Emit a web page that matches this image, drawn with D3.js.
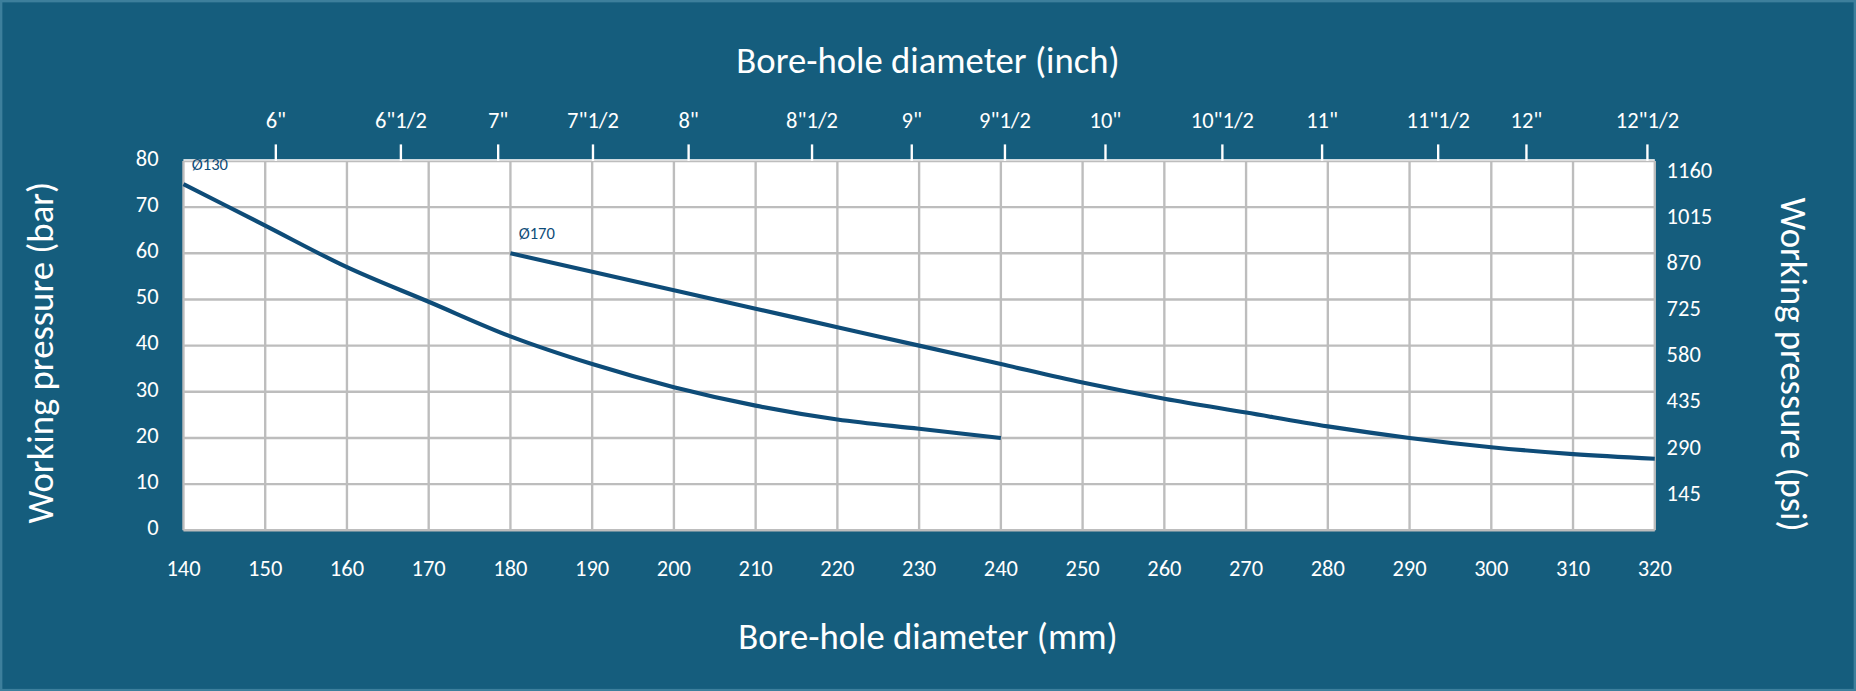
<!DOCTYPE html>
<html lang="en">
<head>
<meta charset="utf-8" />
<script src="https://cdn.jsdelivr.net/npm/d3@7"></script>
<style>
  body { margin: 0; background: #155d7d; }
  text { font-family: Calibri, Carlito, "Open Sans", sans-serif; fill: #fff; }
</style>
</head>
<body>
<script>
var mmTicks = d3.range(140, 321, 10);
var barTicks = d3.range(0, 81, 10);
var psiTicks = [145, 290, 435, 580, 725, 870, 1015, 1160];
var inchLabels = ['6"', '6"1/2', '7"', '7"1/2', '8"', '8"1/2', '9"', '9"1/2', '10"', '10"1/2', '11"', '11"1/2', '12"', '12"1/2'];
var inchPosMm = [151.3, 166.6, 178.5, 190.1, 201.8, 216.9, 229.1, 240.5, 252.8, 267.1, 279.3, 293.5, 304.3, 319.1];

var s130x = [140, 150, 160, 170, 180, 190, 200, 210, 220, 230, 240];
var s130y = [75, 66, 57, 49.5, 42, 36, 31, 27, 24, 22, 20];
var s170x = [180, 190, 200, 210, 220, 230, 240, 250, 260, 270, 280, 290, 300, 310, 320];
var s170y = [60, 56, 52, 48, 44, 40, 36, 32, 28.5, 25.5, 22.5, 20, 18, 16.5, 15.5];

var W = 1856, H = 691, k = 1856 / 1568;
var root = d3.select("body").append("svg").attr("width", W).attr("height", H);
var svg = root.append("g").attr("transform", "scale(" + k + ")");
svg.append("rect").attr("x", 1).attr("y", 1).attr("width", 1566).attr("height", 582)
  .attr("fill", "#155d7d").attr("stroke", "#3d7f9c").attr("stroke-width", 2);

var x = d3.scaleLinear().domain([140, 320]).range([155, 1398]);
var y = d3.scaleLinear().domain([0, 80]).range([448, 136]);

svg.append("rect").attr("x", x(140)).attr("y", y(80)).attr("width", x(320) - x(140))
  .attr("height", y(0) - y(80)).attr("fill", "#fff");

svg.selectAll(".vg").data(mmTicks).enter().append("line")
  .attr("x1", d => x(d)).attr("x2", d => x(d)).attr("y1", y(0)).attr("y2", y(80))
  .attr("stroke", "#bdbdbd").attr("stroke-width", 2);
svg.selectAll(".hg").data(barTicks).enter().append("line")
  .attr("x1", x(140)).attr("x2", x(320)).attr("y1", d => y(d)).attr("y2", d => y(d))
  .attr("stroke", "#bdbdbd").attr("stroke-width", 2);

svg.selectAll(".xl").data(mmTicks).enter().append("text")
  .attr("x", d => x(d)).attr("y", 487).attr("text-anchor", "middle")
  .attr("font-size", 19).text(d => d);
svg.selectAll(".yl").data(barTicks).enter().append("text")
  .attr("x", 134).attr("y", d => y(d) + 4).attr("text-anchor", "end")
  .attr("font-size", 19).text(d => d);
svg.selectAll(".pl").data(psiTicks).enter().append("text")
  .attr("x", 1408).attr("y", d => y(d / 14.5) + 14).attr("text-anchor", "start")
  .attr("font-size", 19).text(d => d);

// top inch axis
svg.append("line").attr("x1", x(140)).attr("x2", x(320)).attr("y1", 135).attr("y2", 135)
  .attr("stroke", "#fff").attr("stroke-width", 1);
svg.selectAll(".it").data(inchPosMm).enter().append("line")
  .attr("x1", d => x(d)).attr("x2", d => x(d)).attr("y1", 122).attr("y2", 136)
  .attr("stroke", "#fff").attr("stroke-width", 2);
svg.selectAll(".il").data(inchPosMm).enter().append("text")
  .attr("x", d => x(d)).attr("y", 108).attr("text-anchor", "middle")
  .attr("font-size", 19).text((d, i) => inchLabels[i]);

svg.append("text").attr("x", 784).attr("y", 62).attr("text-anchor", "middle")
  .attr("font-size", 31).text("Bore-hole diameter (inch)");
svg.append("text").attr("x", 784).attr("y", 548).attr("text-anchor", "middle")
  .attr("font-size", 31).text("Bore-hole diameter (mm)");
svg.append("text").attr("transform", "translate(45,298) rotate(-90)").attr("text-anchor", "middle")
  .attr("font-size", 31).text("Working pressure (bar)");
svg.append("text").attr("transform", "translate(1505,308) rotate(90)").attr("text-anchor", "middle")
  .attr("font-size", 31).text("Working pressure (psi)");

var line = d3.line().curve(d3.curveMonotoneX).x(d => x(d[0])).y(d => y(d[1]));
[[s130x, s130y, "Ø130"], [s170x, s170y, "Ø170"]].forEach(function (s) {
  var pts = s[0].map((v, i) => [v, s[1][i]]);
  svg.append("path").datum(pts).attr("d", line).attr("fill", "none")
    .attr("stroke", "#0e4c78").attr("stroke-width", 3.5);
  svg.append("text").attr("x", x(s[0][0]) + 7).attr("y", y(s[1][0]) - 12)
    .attr("font-size", 14).style("fill", "#0e4c78").text(s[2]);
});
</script>
</body>
</html>
